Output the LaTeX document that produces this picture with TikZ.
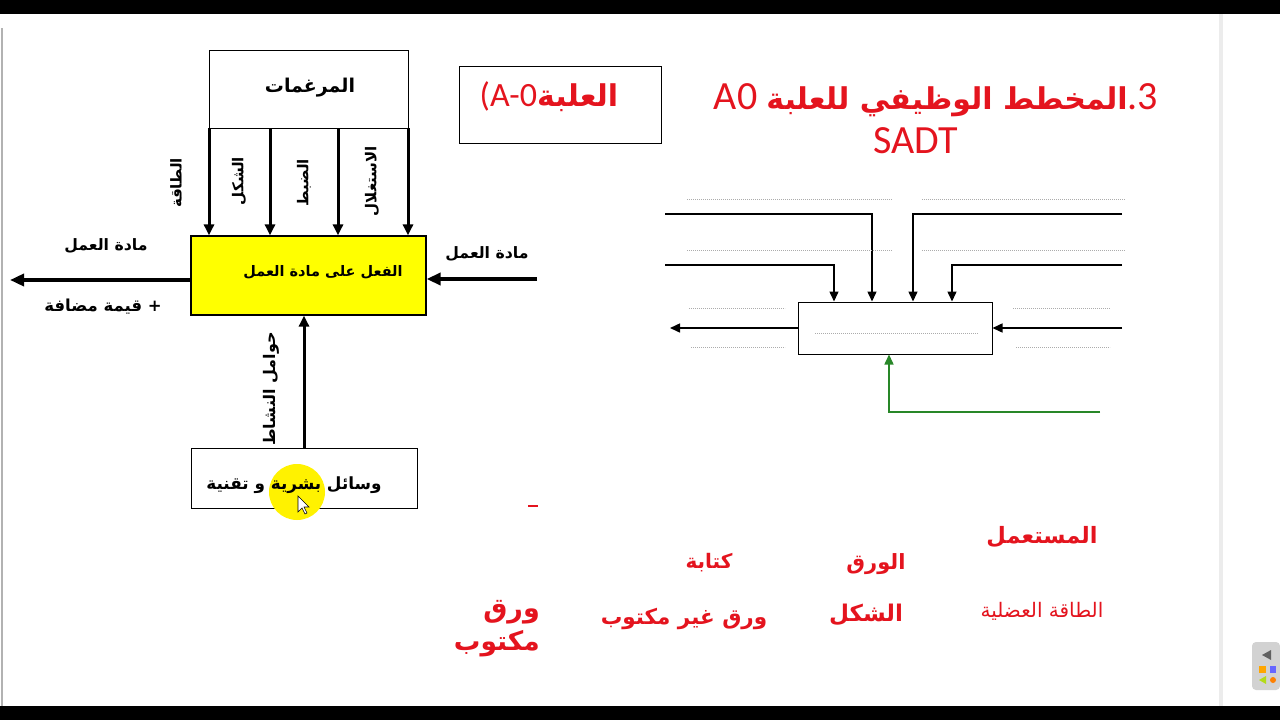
\documentclass[tikz,border=0pt]{standalone}
\usepackage{fontspec}
\usetikzlibrary{arrows.meta}
\TeXXeTstate=1
\newfontfamily\arabicfont[Script=Arabic]{DejaVu Sans}
\newfontfamily\titlefont{Carlito}
\definecolor{sadtred}{RGB}{228,20,30}
\definecolor{sadtgreen}{RGB}{40,135,40}
\definecolor{actyellow}{RGB}{255,255,0}
\newcommand{\rtl}[1]{\beginR #1\endR}

\begin{document}
\begin{tikzpicture}[x=1pt,y=-1pt,
 every edge/.style = {draw, -{Triangle[length=11pt,width=10pt]}, line width=3pt},
 side/.style = {-{Triangle[length=14pt,width=12pt]}, line width=3.4pt},
 arr/.style = {-{Triangle[length=10pt,width=9pt]}, line width=1.5pt},
 box/.style = {draw, line width=0.9pt, inner sep=0pt},
 ar/.style = {font=\arabicfont\bfseries\fontsize{#1}{#1}\selectfont, inner sep=0pt},
 redar/.style = {font=\arabicfont\bfseries\fontsize{#1}{#1}\selectfont, text=sadtred, inner sep=0pt},
 dots/.style = {gray!65, line width=0.7pt, dash pattern=on 0.8pt off 1.2pt}]

\fill[white] (0,0) rectangle (1280,720);
\useasboundingbox (0,0) rectangle (1280,720);
\fill[black] (0,0) rectangle (1280,14);
\fill[black] (0,706) rectangle (1280,720);
\draw[gray!60, line width=1.2pt] (2,28) -- (2,706);
\draw[gray!15, line width=4pt] (1221,14) -- (1221,706);

% left diagram
\node(mrg) [box, minimum width=199pt, minimum height=78pt] at (308.5,89) {};
\node(mrgt) [ar=19] at (310,88) {\rtl{المرغمات}};

\node(act) [box, line width=1.2pt, fill=actyellow, minimum width=235pt, minimum height=79pt] at (308.5,275.5) {};
\node(actt) [ar=14.5] at (323,272) {\rtl{الفعل على مادة العمل}};

\node(res) [box, minimum width=226pt, minimum height=60pt] at (304,478) {};
\fill[yellow] (297,492) circle (28);
\node(rest) [ar=16.8] at (294,485) {\rtl{وسائل بشرية و تقنية}};
\draw[fill=white, line width=0.6pt] (298,496) -- (298,512) -- (302,508) -- (305,514) -- (307,513) -- (304,507) -- (309,507) -- cycle;

\foreach \i/\xx in {1/209,2/270,3/338,4/408}
  \coordinate (c\i) at (\xx,128);

\node(lb1) [ar=15, rotate=90] at (176,183) {\rtl{الطاقة}};
\node(lb2) [ar=15, rotate=90] at (239,181) {\rtl{الشكل}};
\node(lb3) [ar=15, rotate=90] at (304,183) {\rtl{الضبط}};
\node(lb4) [ar=15, rotate=90] at (372,181) {\rtl{الاستغلال}};
\node(lb5) [ar=16, rotate=90] at (271,389) {\rtl{حوامل النشاط}};

\coordinate (inR) at (537,279);
\coordinate (outL) at (10,280);
\node(inl) [ar=15.7] at (487,254) {\rtl{مادة العمل}};
\node(outl) [ar=15.7] at (106,246) {\rtl{مادة العمل}};
\node(addl) [ar=16.5] at (103,307) {\rtl{+ قيمة مضافة}};

\path (c1) edge (c1 |- act.north)
      (c2) edge (c2 |- act.north)
      (c3) edge (c3 |- act.north)
      (c4) edge (c4 |- act.north)
      (inR) edge [side] (inR -| act.east)
      (act.west |- outL) edge [side] (outL)
      (res.north) edge (res.north |- act.south);

% title
\node(abox) [box, minimum width=202pt, minimum height=77pt] at (560,104.5) {};
\node(aboxt) [inner sep=0pt] at (549,97)
  {\color{sadtred}{\titlefont\fontsize{34}{34}\selectfont (A-0}{\arabicfont\bfseries\fontsize{30}{30}\selectfont\rtl{العلبة}}};
\node(ttl) [inner sep=0pt] at (936,100)
  {\color{sadtred}{\titlefont\fontsize{40}{40}\selectfont A0\ }{\arabicfont\bfseries\fontsize{30}{30}\selectfont\rtl{المخطط الوظيفي للعلبة}}{\titlefont\fontsize{40}{40}\selectfont .3}};
\node(sadt) [inner sep=0pt, text=sadtred, font=\titlefont\fontsize{40}{40}\selectfont] at (916,141) {SADT};

% right diagram
\node(rbox) [box, line width=1pt, minimum width=194pt, minimum height=52pt] at (895,328) {};
\coordinate (r1) at (665,214);
\coordinate (r2) at (665,265);
\coordinate (r3) at (1122,214);
\coordinate (r4) at (1122,265);
\coordinate (r5) at (1122,328);
\coordinate (r6) at (670,328);
\coordinate (g1) at (1100,412);
\draw[arr] (r1) -| ([xshift=-23pt]rbox.north);
\draw[arr] (r2) -| ([xshift=-61pt]rbox.north);
\draw[arr] (r3) -| ([xshift=18pt]rbox.north);
\draw[arr] (r4) -| ([xshift=57pt]rbox.north);
\draw[arr] (r5) -- (rbox.east |- r5);
\draw[arr] (rbox.west |- r6) -- (r6);
\draw[arr, sadtgreen] (g1) -| ([xshift=-6pt]rbox.south);

\foreach \yy in {199,250} {
  \draw[dots] (687,\yy) -- (892,\yy);
  \draw[dots] (922,\yy) -- (1125,\yy);
}
\draw[dots] (689,308) -- (785,308);
\draw[dots] (1013,308) -- (1110,308);
\draw[dots] (691,347) -- (785,347);
\draw[dots] (1016,347) -- (1110,347);
\draw[dots] (815,333) -- (978,333);

% answers
\node(usr) [redar=22.5] at (1042,537) {\rtl{المستعمل}};
\node(ppr) [redar=21] at (876,564) {\rtl{الورق}};
\node(wrt) [redar=20] at (709,563) {\rtl{كتابة}};
\node(nrg) [text=sadtred, inner sep=0pt, font=\arabicfont\fontsize{20}{20}\selectfont] at (1042,611) {\rtl{الطاقة العضلية}};
\node(shp) [redar=23] at (866,615) {\rtl{الشكل}};
\node(blank) [redar=21.5] at (684,619) {\rtl{ورق غير مكتوب}};
\node(done1) [redar=27, anchor=east] at (540,612) {\rtl{ورق}};
\node(done2) [redar=26.5, anchor=east] at (540,644) {\rtl{مكتوب}};
\draw[sadtred, line width=1.4pt] (528,506) -- (538,506);

% side widget
\fill[gray!35, rounded corners=4pt] (1252,642) rectangle (1280,690);
\fill[gray!75!black] (1262,655) -- (1271,650) -- (1271,660) -- cycle;
\fill[orange!70!yellow] (1259,666) rectangle (1266,673);
\fill[blue!60] (1270,666) rectangle (1276,673);
\fill[yellow!70!green] (1259,680) -- (1266,676) -- (1266,684) -- cycle;
\fill[orange] (1273,680) circle (3);

\end{tikzpicture}
\end{document}
